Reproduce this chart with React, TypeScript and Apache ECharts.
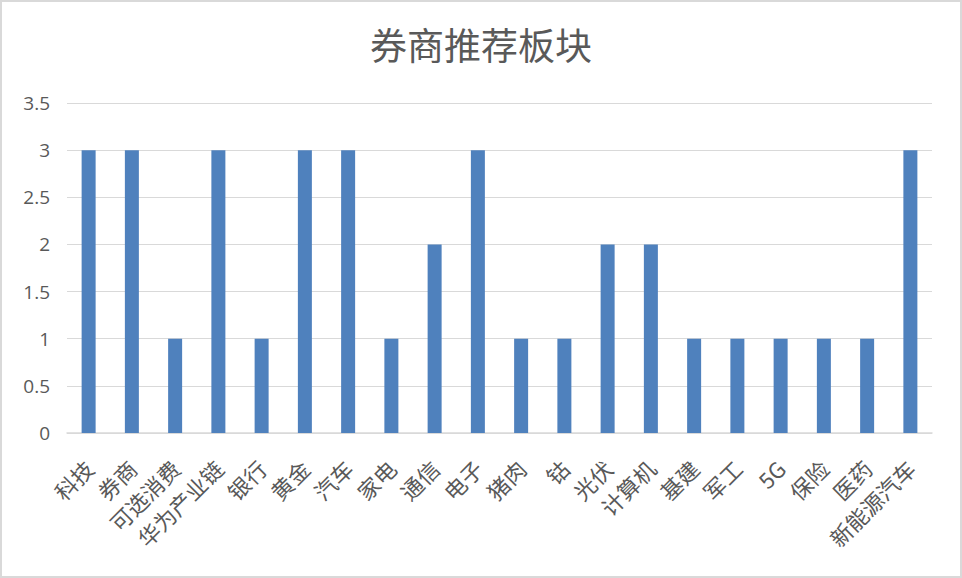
import React, { useEffect, useRef } from "react";
import * as echarts from "echarts";

const title = "券商推荐板块";
const categories = [
  "科技", "券商", "可选消费", "华为产业链", "银行", "黄金", "汽车", "家电", "通信", "电子",
  "猪肉", "钴", "光伏", "计算机", "基建", "军工", "5G", "保险", "医药", "新能源汽车",
];
const values = [3, 3, 1, 3, 1, 3, 3, 1, 2, 3, 1, 1, 2, 2, 1, 1, 1, 1, 1, 3];
const yMin = 0;
const yMax = 3.5;
const yStep = 0.5;

export default function App() {
  const ref = useRef<HTMLDivElement>(null);
  useEffect(() => {
    if (!ref.current) return;
    const chart = echarts.init(ref.current, undefined, { renderer: "svg" });
    chart.setOption({
      animation: false,
      backgroundColor: "#ffffff",
      title: {
        text: title,
        left: "center",
        top: 20,
        textStyle: {
          fontFamily: "Noto Sans CJK SC",
          fontSize: 37,
          fontWeight: "normal",
          color: "#595959",
        },
      },
      graphic: [
        {
          type: "rect",
          shape: { x: 1, y: 1, width: 960, height: 576 },
          style: { fill: "none", stroke: "#d9d9d9", lineWidth: 2 },
          silent: true,
        },
      ],
      grid: { left: 67, right: 30, top: 103, bottom: 145, containLabel: false },
      xAxis: {
        type: "category",
        data: categories,
        axisLine: { show: true, lineStyle: { color: "#d9d9d9", width: 1.5 } },
        axisTick: { show: false },
        axisLabel: {
          rotate: 45,
          interval: 0,
          margin: 31,
          fontSize: 22,
          color: "#595959",
          fontFamily: "Noto Sans CJK SC",
        },
      },
      yAxis: {
        type: "value",
        min: yMin,
        max: yMax,
        interval: yStep,
        axisLine: { show: false },
        axisTick: { show: false },
        splitLine: { lineStyle: { color: "#d9d9d9", width: 1 } },
        axisLabel: {
          fontSize: 19,
          color: "#595959",
          margin: 17,
          fontFamily: "Open Sans",
        },
      },
      series: [
        {
          type: "bar",
          data: values,
          barWidth: 14,
          itemStyle: { color: "#4F81BD" },
        },
      ],
    });
    return () => chart.dispose();
  }, []);
  return (
    <div
      ref={ref}
      style={{ position: "fixed", left: 0, top: 0, width: 962, height: 578 }}
    />
  );
}
